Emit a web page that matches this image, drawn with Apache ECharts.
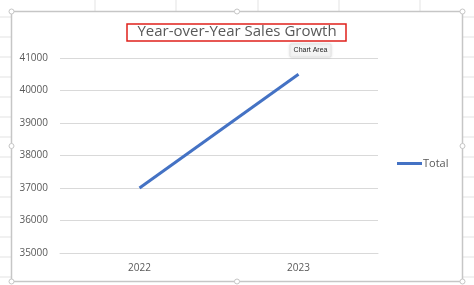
<!DOCTYPE html>
<html>
<head>
<meta charset="utf-8">
<script src="https://cdn.jsdelivr.net/npm/echarts@6/dist/echarts.min.js"></script>
<style>html,body{margin:0;padding:0;background:#fff}#c{width:474px;height:285px}</style>
</head>
<body>
<div id="c"></div>
<script>
const categories = ['2022', '2023'];
const totalValues = [37000, 40500];
const seriesName = 'Total';
const titleText = 'Year-over-Year Sales Growth';
const yMin = 35000, yMax = 41000, yStep = 1000;

const chart = echarts.init(document.getElementById('c'));
const bg = [];
// spreadsheet background lines
[95, 176, 258, 339, 420].forEach(x => bg.push({type:'line', z:-10, shape:{x1:x,y1:0,x2:x,y2:11}, style:{stroke:'#e3e3e3',lineWidth:1}}));
for (let y = 17; y < 285; y += 20) {
  bg.push({type:'line', z:-10, shape:{x1:0,y1:y,x2:11,y2:y}, style:{stroke:'#e3e3e3',lineWidth:1}});
  bg.push({type:'line', z:-10, shape:{x1:463,y1:y,x2:474,y2:y}, style:{stroke:'#e3e3e3',lineWidth:1}});
}
bg.push({type:'rect', z:-5, shape:{x:11.5,y:11.5,width:451,height:270}, style:{fill:'#fff',stroke:'#c6c6c6',lineWidth:1.5}});
[[11.5,11.5],[237,11.5],[462.5,11.5],[11.5,146],[462.5,146],[11.5,281.5],[237,281.5],[462.5,281.5]].forEach(p =>
  bg.push({type:'circle', z:-4, shape:{cx:p[0],cy:p[1],r:2.5}, style:{fill:'#fff',stroke:'#c6c6c6',lineWidth:1}}));
// title box
bg.push({type:'rect', z:5, shape:{x:127,y:24,width:219,height:17}, style:{fill:'none',stroke:'#e0201b',lineWidth:1.5}});
// "Chart Area" tooltip
bg.push({type:'rect', z:6, shape:{x:290,y:44,width:41,height:13,r:1}, style:{fill:'#f4f4f4',stroke:'#d8d8d8',lineWidth:0.5,shadowBlur:3,shadowColor:'rgba(0,0,0,0.15)'}});
bg.push({type:'text', z:7, style:{x:310.5,y:50.5,text:'Chart Area',fill:'#222',font:'7px "Liberation Sans", sans-serif',textAlign:'center',textVerticalAlign:'middle'}});

chart.setOption({
  animation: false,
  backgroundColor: '#fff',
  graphic: bg,
  title: {
    text: titleText, left: 'center', top: 24, padding: 0,
    textStyle: {fontFamily: '"Open Sans", sans-serif', fontSize: 15, fontWeight: 'normal', color: '#595959'}
  },
  legend: {
    orient: 'vertical', left: 397, top: 158, padding: 0, itemWidth: 25, itemHeight: 3, itemGap: 4,
    icon: 'rect',
    textStyle: {fontFamily: '"Open Sans", sans-serif', fontSize: 11, color: '#595959', padding: [0,0,0,-4]},
    data: [seriesName]
  },
  grid: {left: 60, right: 96, top: 58, bottom: 32, containLabel: false},
  xAxis: {
    type: 'category', data: categories, boundaryGap: true,
    axisLine: {lineStyle: {color: '#d9d9d9', width: 1}},
    axisTick: {show: false},
    axisLabel: {fontFamily: '"Open Sans", sans-serif', fontSize: 10, color: '#595959', margin: 10}
  },
  yAxis: {
    type: 'value', min: yMin, max: yMax, interval: yStep,
    axisLine: {show: false}, axisTick: {show: false},
    splitLine: {lineStyle: {color: '#d9d9d9', width: 1}},
    axisLabel: {fontFamily: '"Open Sans", sans-serif', fontSize: 10, color: '#595959', margin: 12, formatter: v => String(v)}
  },
  series: [{
    name: seriesName, type: 'line', data: totalValues,
    symbol: 'none', lineStyle: {color: '#4472C4', width: 3}, itemStyle: {color: '#4472C4'}
  }]
});
</script>
</body>
</html>
